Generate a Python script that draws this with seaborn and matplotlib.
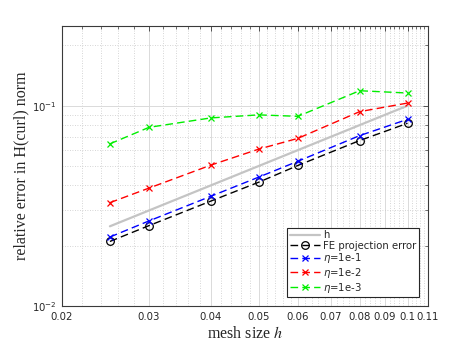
import numpy as np
import pandas as pd
import matplotlib
matplotlib.use("Agg")
import matplotlib.pyplot as plt
import matplotlib.ticker as mticker
import seaborn as sns

# ---- data ----
h_vals = [0.025, 0.03, 0.04, 0.05, 0.06, 0.08, 0.1]
h_ref = [0.025, 0.03, 0.04, 0.05, 0.06, 0.08, 0.1]
fe_proj = [0.0210, 0.0252, 0.0334, 0.0415, 0.0503, 0.0670, 0.0817]
eta_1e1 = [0.0221, 0.0266, 0.0353, 0.0440, 0.0528, 0.0709, 0.0855]
eta_1e2 = [0.0328, 0.0388, 0.0505, 0.0607, 0.0687, 0.0934, 0.1031]
eta_1e3 = [0.0645, 0.0780, 0.0869, 0.0900, 0.0885, 0.1188, 0.1157]

x_ticks = [0.02, 0.03, 0.04, 0.05, 0.06, 0.07, 0.08, 0.09, 0.1, 0.11]
x_ticklabels = ["0.02", "0.03", "0.04", "0.05", "0.06", "0.07", "0.08", "0.09", "0.1", "0.11"]

sns.set_style("white")
plt.rcParams["font.family"] = ["DejaVu Sans"]

fig = plt.figure(figsize=(4.74, 3.45), dpi=100)
ax = fig.add_axes([62 / 474, 39 / 345, 366 / 474, 280 / 345])
ax.set_xscale("log")
ax.set_yscale("log")

series = [
    ("h", h_vals, h_ref, "#c4c4c4", "-", None, 1.6, 0),
    ("FE projection error", h_vals, fe_proj, "black", "--", "o", 1.0, 5.5),
    (r"$\eta$=1e-1", h_vals, eta_1e1, "#0000ff", "--", "x", 1.0, 5),
    (r"$\eta$=1e-2", h_vals, eta_1e2, "#ff0000", "--", "x", 1.0, 5),
    (r"$\eta$=1e-3", h_vals, eta_1e3, "#00ee00", "--", "x", 1.0, 5),
]
for name, xs, ys, col, ls, mk, lw, ms in series:
    df = pd.DataFrame({"h": xs, "err": ys})
    sns.lineplot(data=df, x="h", y="err", color=col, linewidth=lw, label=name, ax=ax)
    l = ax.lines[-1]
    l.set_linestyle(ls)
    if ls == "--":
        l.set_dashes((5.5, 3))
    if mk is not None:
        l.set_marker(mk)
        l.set_markersize(ms)
        l.set_markerfacecolor("none")
        l.set_markeredgecolor(col)
        l.set_markeredgewidth(0.9)

ax.set_xlim(0.02, 0.11)
ax.set_ylim(0.01, 0.25)

ax.xaxis.set_major_locator(mticker.FixedLocator(x_ticks))
ax.xaxis.set_major_formatter(mticker.FixedFormatter(x_ticklabels))
minor_x = [v for v in np.round(np.arange(0.02, 0.1101, 0.002), 4) if not any(abs(v - t) < 1e-6 for t in x_ticks)]
ax.xaxis.set_minor_locator(mticker.FixedLocator(minor_x))
ax.xaxis.set_minor_formatter(mticker.NullFormatter())

ax.yaxis.set_major_locator(mticker.LogLocator(base=10, numticks=5))
ax.yaxis.set_minor_locator(mticker.LogLocator(base=10, subs=np.arange(2, 10), numticks=20))
ax.yaxis.set_minor_formatter(mticker.NullFormatter())

ax.grid(True, which="major", color="#dadada", linestyle="-", linewidth=0.7)
ax.grid(True, which="minor", color="#c8c8c8", linestyle=(0, (1, 2)), linewidth=0.6)
ax.set_axisbelow(True)

for sp in ax.spines.values():
    sp.set_color("#3a3a3a")
    sp.set_linewidth(0.8)
    sp.set_visible(True)

ax.tick_params(which="both", direction="in", top=True, right=True, colors="#3a3a3a",
               labelcolor="#262626", labelsize=7.3)
ax.tick_params(which="major", length=3.5, width=0.6, pad=4)
ax.tick_params(which="minor", length=2, width=0.5)

ax.set_xlabel("mesh size $h$", family="Liberation Serif", fontsize=11.5,
              math_fontfamily="stix", color="#262626", labelpad=3)
ax.set_ylabel("relative error in H(curl) norm", family="Liberation Serif", fontsize=11.5,
              color="#262626", labelpad=2)

leg = ax.legend(loc="lower right", bbox_to_anchor=(0.975, 0.032), fontsize=7.3,
                frameon=True, fancybox=False, edgecolor="#262626", framealpha=1,
                handlelength=3.0, borderpad=0.25, labelspacing=0.05, handletextpad=0.3,
                borderaxespad=0)
leg.get_frame().set_linewidth(0.8)

fig.savefig("out.png", dpi=100)
